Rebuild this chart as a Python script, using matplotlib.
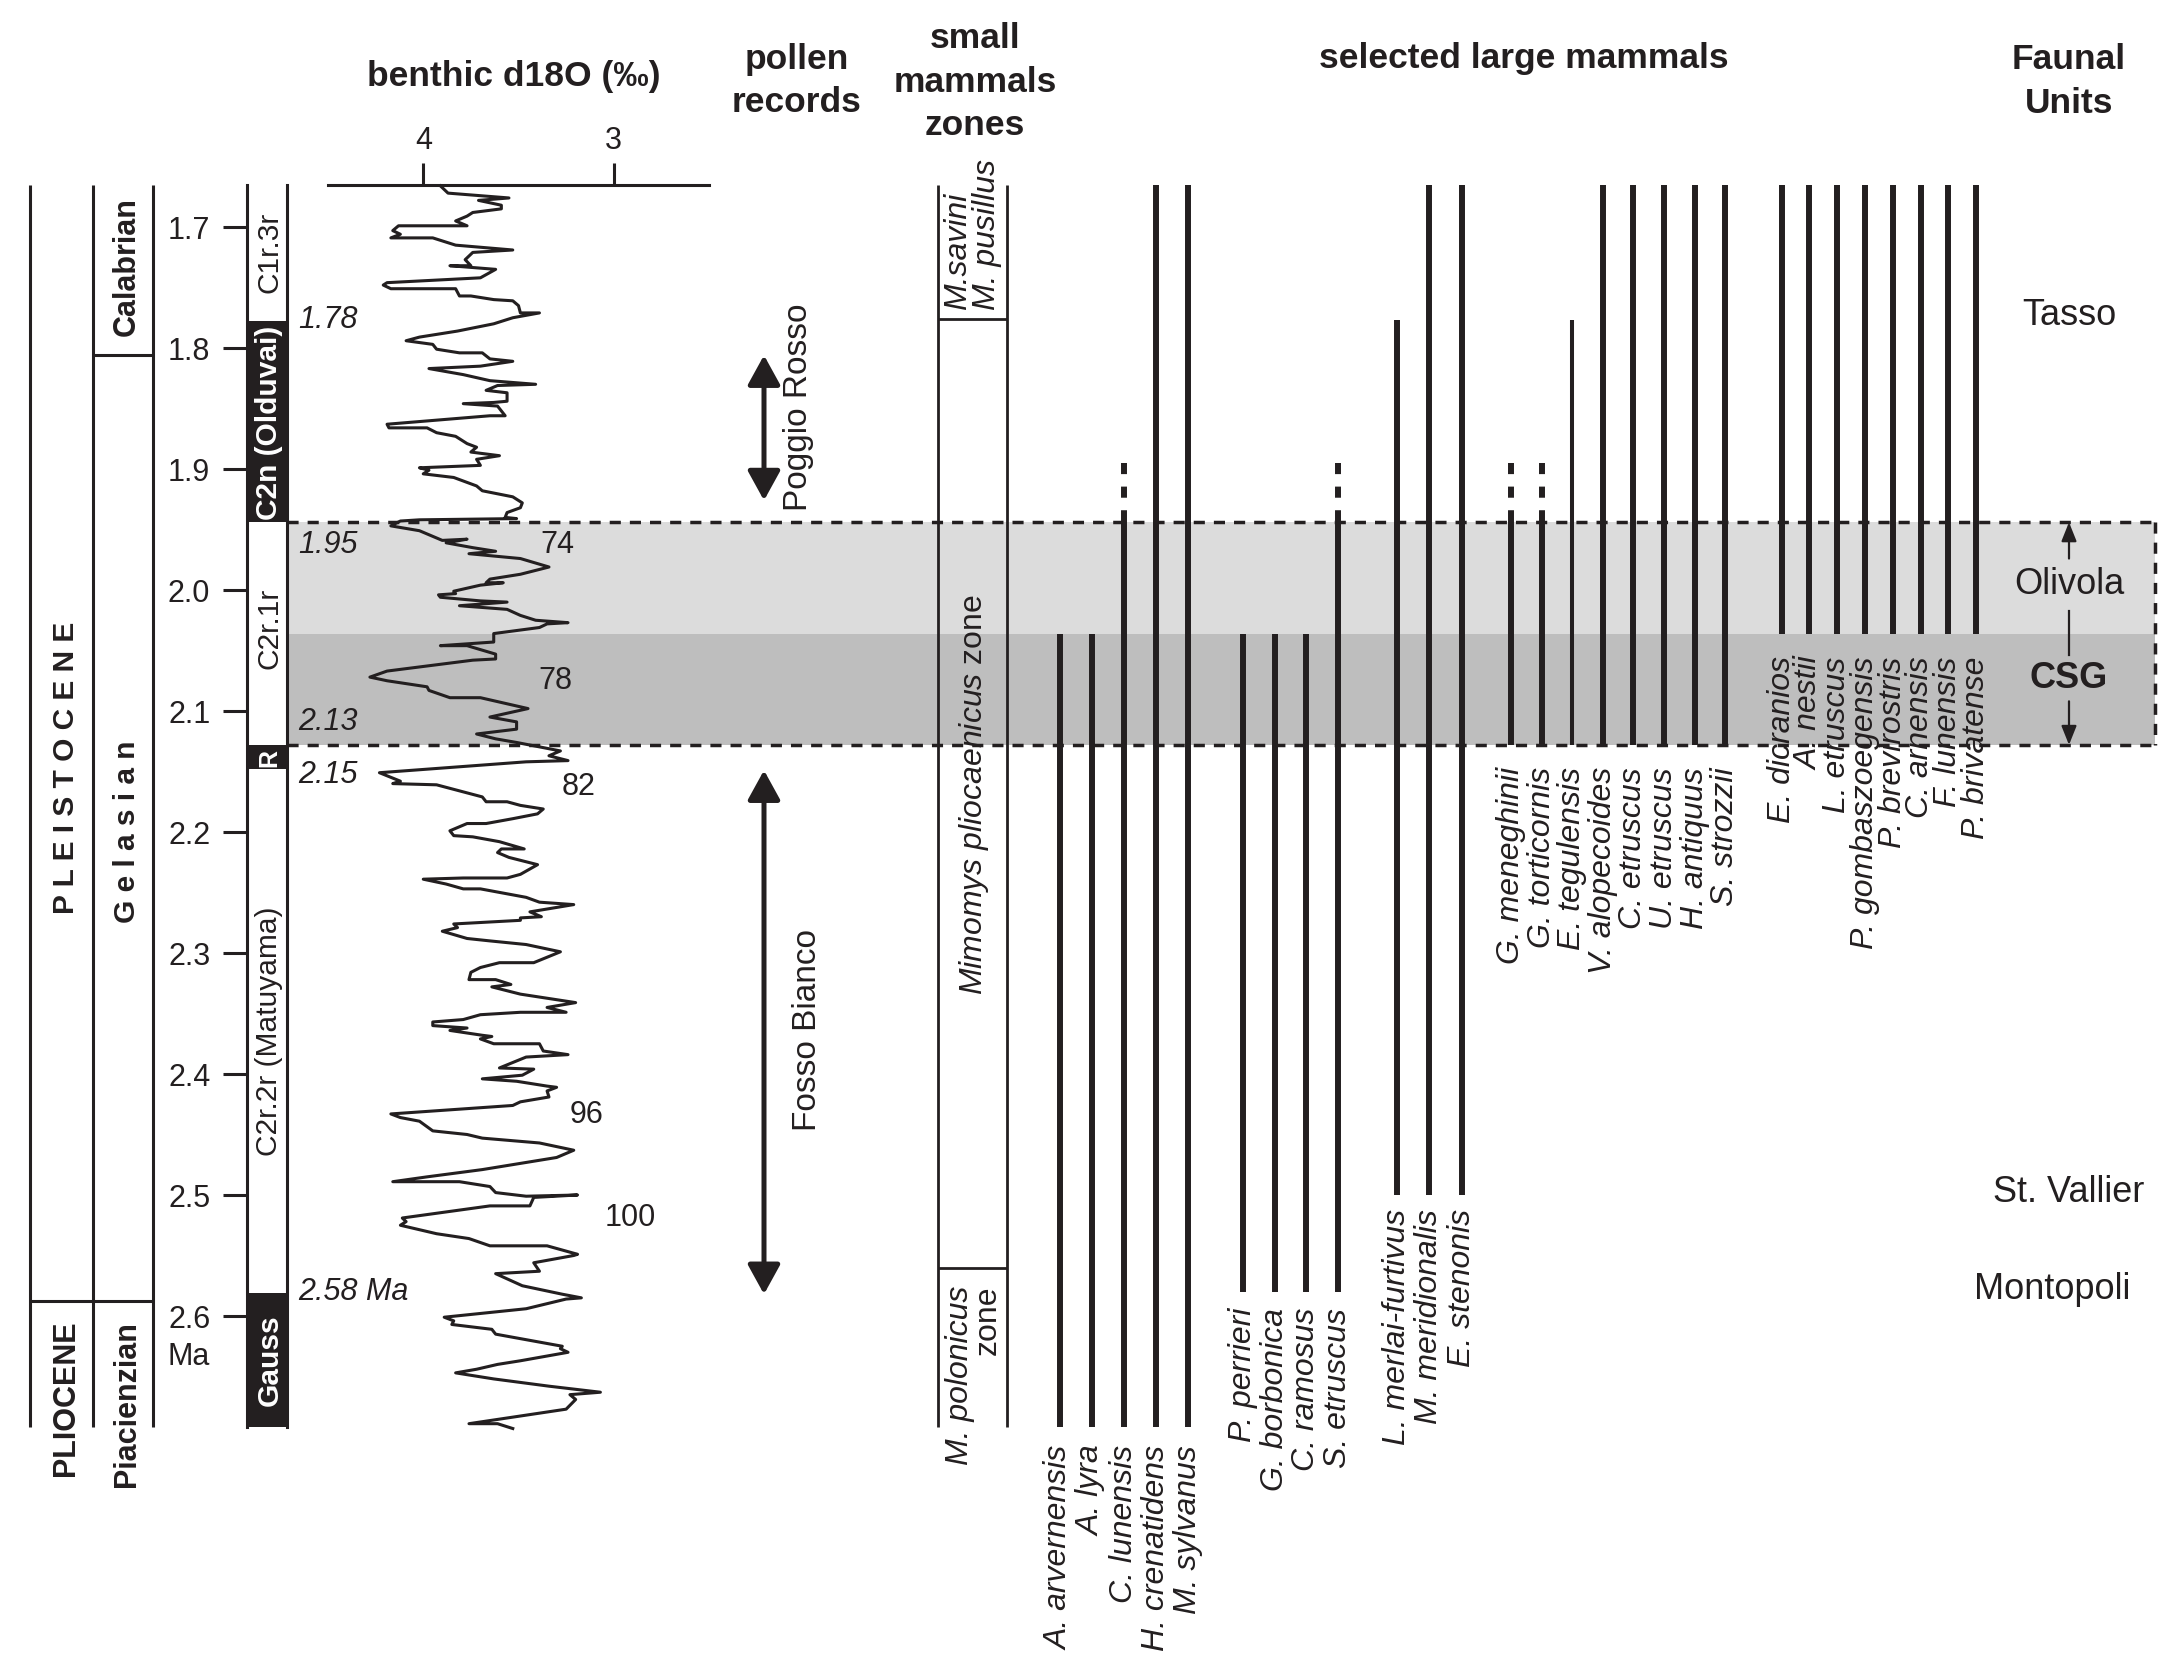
import matplotlib
matplotlib.use("Agg")
import matplotlib.pyplot as plt

plt.rcParams['font.family'] = ['Liberation Sans', 'DejaVu Sans']
plt.rcParams['mathtext.fontset'] = 'custom'
plt.rcParams['mathtext.rm'] = 'Liberation Sans'
plt.rcParams['mathtext.it'] = 'Liberation Sans:italic'
plt.rcParams['lines.scale_dashes'] = False

# ---------------- Data ----------------
# benthic d18O record (age in Ma, d18O in permil)
d18o_age = [
    1.666, 1.672, 1.676, 1.678, 1.682, 1.685, 1.688, 1.691, 1.695, 1.699,
    1.699, 1.703, 1.706, 1.709, 1.709, 1.715, 1.719, 1.721, 1.727, 1.732,
    1.732, 1.735, 1.742, 1.746, 1.748, 1.751, 1.751, 1.757, 1.757, 1.760,
    1.761, 1.765, 1.771, 1.771, 1.775, 1.780, 1.786, 1.791, 1.794, 1.797,
    1.801, 1.804, 1.804, 1.809, 1.811, 1.815, 1.817, 1.822, 1.827, 1.830,
    1.831, 1.835, 1.837, 1.844, 1.845, 1.846, 1.848, 1.856, 1.856, 1.863,
    1.866, 1.866, 1.870, 1.873, 1.879, 1.882, 1.886, 1.889, 1.892, 1.897,
    1.899, 1.901, 1.904, 1.907, 1.914,
    1.918, 1.923, 1.928, 1.932, 1.936, 1.940, 1.941, 1.942, 1.943, 1.947,
    1.951, 1.959, 1.958, 1.961, 1.965, 1.968, 1.970, 1.974, 1.981, 1.987,
    1.991, 1.994, 1.994, 1.996, 2.001, 2.003, 2.004, 2.006, 2.009, 2.010,
    2.013, 2.016, 2.021, 2.025, 2.027, 2.028, 2.031, 2.036, 2.043, 2.046,
    2.046, 2.053, 2.057, 2.058, 2.067, 2.072, 2.075, 2.080, 2.083, 2.089,
    2.089, 2.098, 2.105, 2.109, 2.115, 2.119, 2.123, 2.126, 2.133, 2.137,
    2.141, 2.142, 2.151, 2.158, 2.160, 2.161, 2.171,
    2.175, 2.175, 2.178, 2.181, 2.185, 2.189, 2.193, 2.193, 2.199, 2.203,
    2.204, 2.208, 2.214, 2.214, 2.217, 2.221, 2.227, 2.235, 2.238, 2.238,
    2.239, 2.243, 2.247, 2.247, 2.254, 2.258, 2.260, 2.266, 2.270, 2.271,
    2.273, 2.276, 2.279, 2.282, 2.288, 2.290, 2.293, 2.299, 2.308, 2.308,
    2.312, 2.316, 2.322, 2.322, 2.326, 2.328, 2.334, 2.341, 2.345, 2.349,
    2.349, 2.351, 2.355, 2.357, 2.360, 2.362, 2.364, 2.368, 2.369, 2.371,
    2.375, 2.375, 2.381, 2.384, 2.386, 2.395, 2.396, 2.401, 2.404, 2.406,
    2.410, 2.411, 2.414, 2.419, 2.423, 2.426,
    2.433, 2.436, 2.439, 2.447, 2.450, 2.453, 2.457, 2.463, 2.469, 2.479,
    2.485, 2.489, 2.489, 2.493, 2.498, 2.501, 2.500, 2.502, 2.509, 2.509,
    2.519, 2.522, 2.525, 2.532, 2.536, 2.542, 2.542, 2.549, 2.550, 2.556,
    2.563, 2.565, 2.575, 2.582, 2.585, 2.586, 2.594, 2.601, 2.604, 2.607,
    2.611, 2.615, 2.625, 2.627, 2.630, 2.637, 2.640, 2.644, 2.647, 2.652,
    2.658, 2.663, 2.665, 2.669, 2.677, 2.689, 2.689, 2.693,
]
d18o_val = [
    3.91, 3.87, 3.55, 3.71, 3.59, 3.59, 3.74, 3.77, 3.83, 3.77,
    4.13, 4.16, 4.12, 4.17, 3.95, 3.83, 3.53, 3.74, 3.78, 3.75,
    3.86, 3.62, 3.70, 4.19, 4.21, 4.17, 3.83, 3.81, 3.75, 3.63,
    3.53, 3.50, 3.49, 3.39, 3.53, 3.63, 3.82, 4.02, 4.09, 3.95,
    3.93, 3.81, 3.69, 3.65, 3.53, 3.70, 3.97, 3.79, 3.65, 3.41,
    3.61, 3.67, 3.56, 3.56, 3.63, 3.79, 3.61, 3.57, 3.65, 4.19,
    4.18, 3.98, 3.93, 3.83, 3.77, 3.72, 3.75, 3.60, 3.72, 3.70,
    4.02, 3.97, 4.00, 3.84, 3.72,
    3.69, 3.53, 3.48, 3.49, 3.56, 3.57, 3.51, 4.02, 4.12, 4.17,
    4.02, 3.90, 3.77, 3.88, 3.74, 3.62, 3.76, 3.49, 3.34, 3.49,
    3.65, 3.67, 3.58, 3.70, 3.84, 3.83, 3.92, 3.91, 3.70, 3.56,
    3.81, 3.56, 3.49, 3.41, 3.24, 3.35, 3.39, 3.63, 3.63, 3.91,
    3.77, 3.62, 3.62, 3.74, 4.19, 4.28, 4.19, 3.98, 3.97, 3.86,
    3.70, 3.45, 3.65, 3.51, 3.51, 3.72, 3.62, 3.51, 3.28, 3.34,
    3.24, 3.46, 4.23, 4.12, 4.16, 3.93, 3.69,
    3.67, 3.56, 3.49, 3.37, 3.40, 3.53, 3.67, 3.77, 3.86, 3.84,
    3.74, 3.60, 3.47, 3.59, 3.61, 3.55, 3.40, 3.49, 3.56, 3.79,
    4.00, 3.88, 3.79, 3.70, 3.46, 3.39, 3.21, 3.44, 3.38, 3.49,
    3.49, 3.84, 3.82, 3.90, 3.77, 3.65, 3.46, 3.28, 3.42, 3.60,
    3.70, 3.75, 3.76, 3.62, 3.54, 3.64, 3.49, 3.20, 3.35, 3.25,
    3.49, 3.70, 3.79, 3.95, 3.95, 3.77, 3.86, 3.69, 3.64, 3.70,
    3.63, 3.39, 3.37, 3.24, 3.46, 3.60, 3.42, 3.48, 3.69, 3.51,
    3.35, 3.30, 3.35, 3.34, 3.49, 3.53,
    4.17, 4.12, 4.02, 3.95, 3.77, 3.69, 3.39, 3.21, 3.30, 3.69,
    3.98, 4.16, 3.81, 3.65, 3.62, 3.46, 3.19, 3.42, 3.44, 3.65,
    4.11, 4.09, 4.12, 3.93, 3.76, 3.65, 3.35, 3.19, 3.21, 3.42,
    3.39, 3.62, 3.48, 3.27, 3.17, 3.25, 3.46, 3.89, 3.84, 3.85,
    3.64, 3.62, 3.27, 3.28, 3.24, 3.49, 3.61, 3.72, 3.83, 3.63,
    3.34, 3.07, 3.23, 3.20, 3.25, 3.76, 3.61, 3.53,
]
d18o_ticks = [4, 3]

# chronostratigraphy (Ma)
age_ticks = [1.7, 1.8, 1.9, 2.0, 2.1, 2.2, 2.3, 2.4, 2.5, 2.6]
col_top, col_base = 1.665, 2.692
epoch_boundary = 2.588
stage_boundary = 1.806

# magnetostratigraphy
normal_chrons = [(1.778, 1.944), (2.128, 2.148), (2.581, 2.692)]
chron_labels = ["C1r.3r", "C2n (Olduvai)", "C2r.1r", "R", "C2r.2r (Matuyama)", "Gauss"]
chron_label_age = [1.72, 1.861, 2.031, 2.138, 2.364, 2.636]
chron_is_normal = [False, True, False, True, False, True]

boundary_labels = ["1.78", "1.95", "2.13", "2.15", "2.58 Ma"]
boundary_label_age = [1.776, 1.962, 2.108, 2.152, 2.579]

mis_labels = ["74", "78", "82", "96", "100"]
mis_age = [1.962, 2.074, 2.162, 2.433, 2.518]

# shaded intervals
olivola_band = (1.944, 2.036)
csg_band = (2.036, 2.128)

# pollen records
pollen_names = ["Poggio Rosso", "Fosso Bianco"]
pollen_top = [1.806, 2.149]
pollen_base = [1.926, 2.582]

# small mammal zone boundaries
sm_zone_bounds = [1.776, 2.56]

# selected large mammals: solid range (top = younger end, base = older end)
species_names = [
    "A. arvernensis", "A. lyra", "C. lunensis", "H. crenatidens", "M. sylvanus",
    "P. perrieri", "G. borbonica", "C. ramosus", "S. etruscus",
    "L. merlai-furtivus", "M. meridionalis", "E. stenonis",
    "G. meneghinii", "G. torticornis", "E. tegulensis", "V. alopecoides",
    "C. etruscus", "U. etruscus", "H. antiquus", "S. strozzii",
    "E. dicranios", "A. nestii", "L. etruscus", "P. gombaszoegensis",
    "P. brevirostris", "C. arnensis", "F. lunensis", "P. brivatense",
]
species_top = [
    2.036, 2.036, 1.936, 1.665, 1.665,
    2.036, 2.036, 2.036, 1.936,
    1.777, 1.665, 1.665,
    1.936, 1.936, 1.777, 1.665, 1.665, 1.665, 1.665, 1.665,
    1.665, 1.665, 1.665, 1.665, 1.665, 1.665, 1.665, 1.665,
]
species_base = [
    2.692, 2.692, 2.692, 2.692, 2.692,
    2.58, 2.58, 2.58, 2.58,
    2.50, 2.50, 2.50,
    2.128, 2.128, 2.128, 2.128, 2.128, 2.128, 2.128, 2.128,
    2.036, 2.036, 2.036, 2.036, 2.036, 2.036, 2.036, 2.036,
]
# uncertain (dashed) extension upwards
species_uncertain_top = [
    None, None, 1.895, None, None,
    None, None, None, 1.895,
    None, None, None,
    1.895, 1.895, None, None, None, None, None, None,
    None, None, None, None, None, None, None, None,
]
species_group = [0] * 5 + [1] * 4 + [2] * 3 + [3] * 8 + [4] * 8

faunal_units = ["Tasso", "Olivola", "CSG", "St. Vallier", "Montopoli"]
faunal_age = [1.772, 1.995, 2.072, 2.497, 2.577]

# ---------------- Layout ----------------
INK = '#231f20'
LIGHT = '#dcdcdc'
DARK = '#bebebe'
W, H = 2167, 1681

# pixel x of each species group and spacing, gap of label below bar (Ma)
group_x0 = [1060, 1243, 1397, 1511, 1781.5]
group_dx = [31.9, 31.6, 32.4, 30.6, 27.8]
group_label_gap = [0.014, 0.0124, 0.0107, 0.0174, 0.018]
thin_lines = {"E. tegulensis"}


def py(age):
    return 591 + (age - 2.0) * 1210


def row(px):
    return 2.0 + (px - 591) / 1210


def box(x0, x1, a0, a1):
    return [x0 / W, 1 - py(a1) / H, (x1 - x0) / W, (py(a1) - py(a0)) / H]


fig = plt.figure(figsize=(W / 100, H / 100), dpi=100)
ax = fig.add_axes([0, 0, 1, 1])
ax.set_xlim(0, W)
ax.set_ylim(row(H), row(0))
ax.axis('off')

# shaded Olivola / CSG interval with dashed frame
ax.axhspan(*olivola_band, xmin=287 / W, xmax=2155 / W, color=LIGHT, lw=0, zorder=0)
ax.axhspan(*csg_band, xmin=287 / W, xmax=2155 / W, color=DARK, lw=0, zorder=0)
dash = (0, (8, 6.5))
for a in (olivola_band[0], csg_band[1]):
    ax.plot([287, 2155], [a, a], color=INK, lw=2.5, ls=dash, dash_capstyle='butt', zorder=3)
ax.plot([2155, 2155], [olivola_band[0], csg_band[1]], color=INK, lw=2.5, ls=dash,
        dash_capstyle='butt', zorder=3)

# epoch / stage columns
ax.vlines([30, 93, 153], col_top, col_base, color=INK, lw=2.2)
ax.hlines(epoch_boundary, 30, 153, color=INK, lw=2.2)
ax.hlines(stage_boundary, 93, 153, color=INK, lw=2.2)
bold = dict(rotation=90, ha='center', fontweight='bold', color=INK)
ax.text(66, 2.146, "P L E I S T O C E N E", va='center', fontsize=21.5, **bold)
ax.text(127, 2.199, "G e l a s i a n", va='center', fontsize=21.5, **bold)
ax.text(127, 1.732, "Calabrian", va='center', fontsize=22, **bold)
ax.text(66, 2.603, "PLIOCENE", va='top', fontsize=22, **bold)
ax.text(127, 2.603, "Piacienzian", va='top', fontsize=22, **bold)

# polarity column with age axis
axp = fig.add_axes(box(247, 287, col_top, col_base))
axp.set_xlim(0, 1)
axp.set_ylim(col_base, col_top)
axp.patch.set_alpha(0)
for s in ('top', 'bottom'):
    axp.spines[s].set_visible(False)
for s in ('left', 'right'):
    axp.spines[s].set_linewidth(2.2)
    axp.spines[s].set_color(INK)
axp.set_xticks([])
axp.set_yticks(age_ticks)
axp.set_yticklabels([f"{t:.1f}" for t in age_ticks])
axp.tick_params(axis='y', direction='out', length=17, width=2.2, pad=9.4,
                labelsize=22, colors=INK)
for top, base in normal_chrons:
    axp.axhspan(top, base, color=INK, lw=0)
for lab, a, normal in zip(chron_labels, chron_label_age, chron_is_normal):
    size = 18 if lab == "R" else 21.5
    axp.text(0.56, a, lab, rotation=90, ha='center', va='center', fontsize=size,
             color='white' if normal else INK, fontweight='bold' if normal else 'normal')
ax.text(210, 2.633, "Ma", ha='right', va='center', fontsize=22, color=INK)

for lab, a in zip(boundary_labels, boundary_label_age):
    ax.text(298, a, lab, style='italic', ha='left', va='center', fontsize=22, color=INK)

# benthic d18O
axd = fig.add_axes(box(328, 709, col_top, col_base))
axd.set_xlim(4.5, 2.5)
axd.set_ylim(col_base, col_top)
axd.patch.set_alpha(0)
for s in ('left', 'right', 'bottom'):
    axd.spines[s].set_visible(False)
axd.spines['top'].set_linewidth(2.2)
axd.spines['top'].set_color(INK)
axd.xaxis.tick_top()
axd.set_xticks(d18o_ticks)
axd.set_xticklabels([str(t) for t in d18o_ticks])
axd.set_yticks([])
axd.tick_params(axis='x', direction='out', length=16, width=2.2, pad=5,
                labelsize=22, colors=INK)
axd.plot(d18o_val, d18o_age, color=INK, lw=2.2, clip_on=False)

mis_x = [540, 538, 562, 570, 605]
for lab, a, x in zip(mis_labels, mis_age, mis_x):
    ax.text(x, a, lab, ha='left', va='center', fontsize=22, color=INK)

# pollen records
pollen_label_x = [799, 808]
pollen_label_age = [1.848, 2.363]
for name, top, base, lx, la in zip(pollen_names, pollen_top, pollen_base,
                                   pollen_label_x, pollen_label_age):
    ax.annotate('', xy=(764, top), xytext=(764, base),
                arrowprops=dict(arrowstyle='<|-|>,head_length=1.0,head_width=0.55',
                                mutation_scale=18, lw=3.6, color=INK,
                                shrinkA=0, shrinkB=0))
    ax.text(lx, la, name, rotation=90, ha='center', va='center',
            fontsize=24, color=INK)

# small mammal zones
ax.vlines([937.5, 1006.7], col_top, col_base, color=INK, lw=2)
ax.hlines(sm_zone_bounds, 937.5, 1006.7, color=INK, lw=2)
it = dict(rotation=90, ha='center', style='italic', fontsize=23, color=INK)
ax.text(958.5, 1.768, "M.savini", va='bottom', **it)
ax.text(987.5, 1.768, "M. pusillus", va='bottom', **it)
ax.text(974, 2.168, r"$\mathit{Mimomys\ pliocaenicus}$ zone", rotation=90,
        ha='center', va='center', fontsize=23, color=INK)
ax.text(960, 2.574, "M. polonicus", va='top', **it)
ax.text(988, 2.574, "zone", rotation=90, ha='center', va='top', fontsize=23, color=INK)

# selected large mammals
rank = {}
for i, name in enumerate(species_names):
    g = species_group[i]
    k = rank.get(g, 0)
    rank[g] = k + 1
    x = group_x0[g] + group_dx[g] * k
    lw = 2.9 if name in thin_lines else 4.3
    ax.plot([x, x], [species_top[i], species_base[i]], color=INK, lw=lw,
            solid_capstyle='butt', zorder=4)
    if species_uncertain_top[i] is not None:
        ax.plot([x, x], [species_uncertain_top[i], species_top[i]], color=INK, lw=lw,
                ls=(0, (8, 9)), dash_capstyle='butt', zorder=4)
    ax.text(x, species_base[i] + group_label_gap[g], name, va='top', **it)

# faunal units
for name, a in zip(faunal_units, faunal_age):
    ax.text(2069 if name != "Montopoli" else 2052, a, name, ha='center', va='center',
            fontsize=26, color=INK, fontweight='bold' if name == "CSG" else 'normal')
small_arrow = dict(arrowstyle='-|>,head_length=1.0,head_width=0.4', mutation_scale=11.5,
                   lw=1.6, color=INK, shrinkA=0, shrinkB=0)
ax.annotate('', xy=(2069, olivola_band[0]), xytext=(2069, 1.974), arrowprops=small_arrow)
ax.plot([2069, 2069], [2.017, 2.054], color=INK, lw=1.6)
ax.annotate('', xy=(2069, csg_band[1]), xytext=(2069, 2.092), arrowprops=small_arrow)

# column headers
hdr = dict(ha='center', va='center', fontsize=25.5, fontweight='bold', color=INK,
           linespacing=1.4)
ax.text(514, row(76), "benthic d18O (‰)", **hdr)
ax.text(797, row(81), "pollen\nrecords", **hdr)
ax.text(975, row(82), "small\nmammals\nzones", **hdr)
ax.text(1524, row(58), "selected large mammals", **hdr)
ax.text(2069, row(81.5), "Faunal\nUnits", **hdr)

fig.savefig("out.png", dpi=100)
